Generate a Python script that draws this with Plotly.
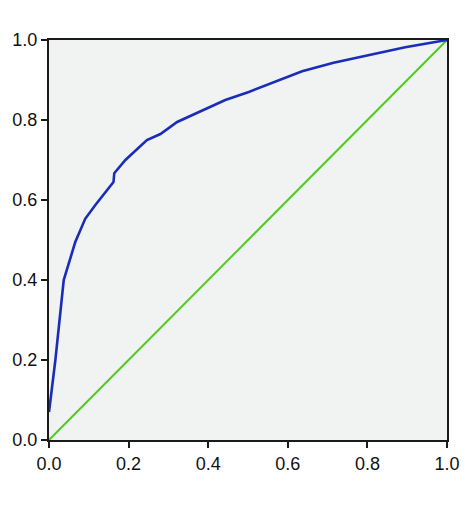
import plotly.graph_objects as go

# ROC curve
fpr = [0.0, 0.016, 0.037, 0.051, 0.066, 0.091, 0.116, 0.162, 0.164, 0.192,
       0.246, 0.28, 0.322, 0.443, 0.502, 0.636, 0.715, 0.895, 1.0]
tpr = [0.07, 0.2, 0.40, 0.447, 0.495, 0.553, 0.587, 0.645, 0.667, 0.70,
       0.75, 0.765, 0.795, 0.85, 0.87, 0.922, 0.943, 0.982, 1.0]

ref_x = [0.0, 1.0]
ref_y = [0.0, 1.0]

tick_vals = [0.0, 0.2, 0.4, 0.6, 0.8, 1.0]
tick_text = ["0.0", "0.2", "0.4", "0.6", "0.8", "1.0"]

fig = go.Figure()
fig.add_trace(go.Scatter(x=ref_x, y=ref_y, mode="lines",
                         line=dict(color="#4fcc1f", width=2), showlegend=False))
fig.add_trace(go.Scatter(x=fpr, y=tpr, mode="lines",
                         line=dict(color="#1a2db8", width=2.6), showlegend=False))

axis_common = dict(
    range=[0, 1], tickvals=tick_vals, ticktext=tick_text,
    showgrid=False, zeroline=False, automargin=False,
    showline=True, linecolor="#1a1a1a", linewidth=2, mirror=True,
    ticks="outside", ticklen=6, tickwidth=1.5, tickcolor="#1a1a1a",
    tickfont=dict(family="Liberation Sans, Arial, sans-serif", size=18, color="#111111"),
)

fig.update_layout(
    width=474, height=512,
    margin=dict(l=49, r=27, t=40, b=72),
    paper_bgcolor="white", plot_bgcolor="#f1f2f2",
    xaxis=dict(**axis_common),
    yaxis=dict(**axis_common),
)

fig.write_html("out.html", config={"displayModeBar": False},
               post_script="document.body.style.margin='0';")
